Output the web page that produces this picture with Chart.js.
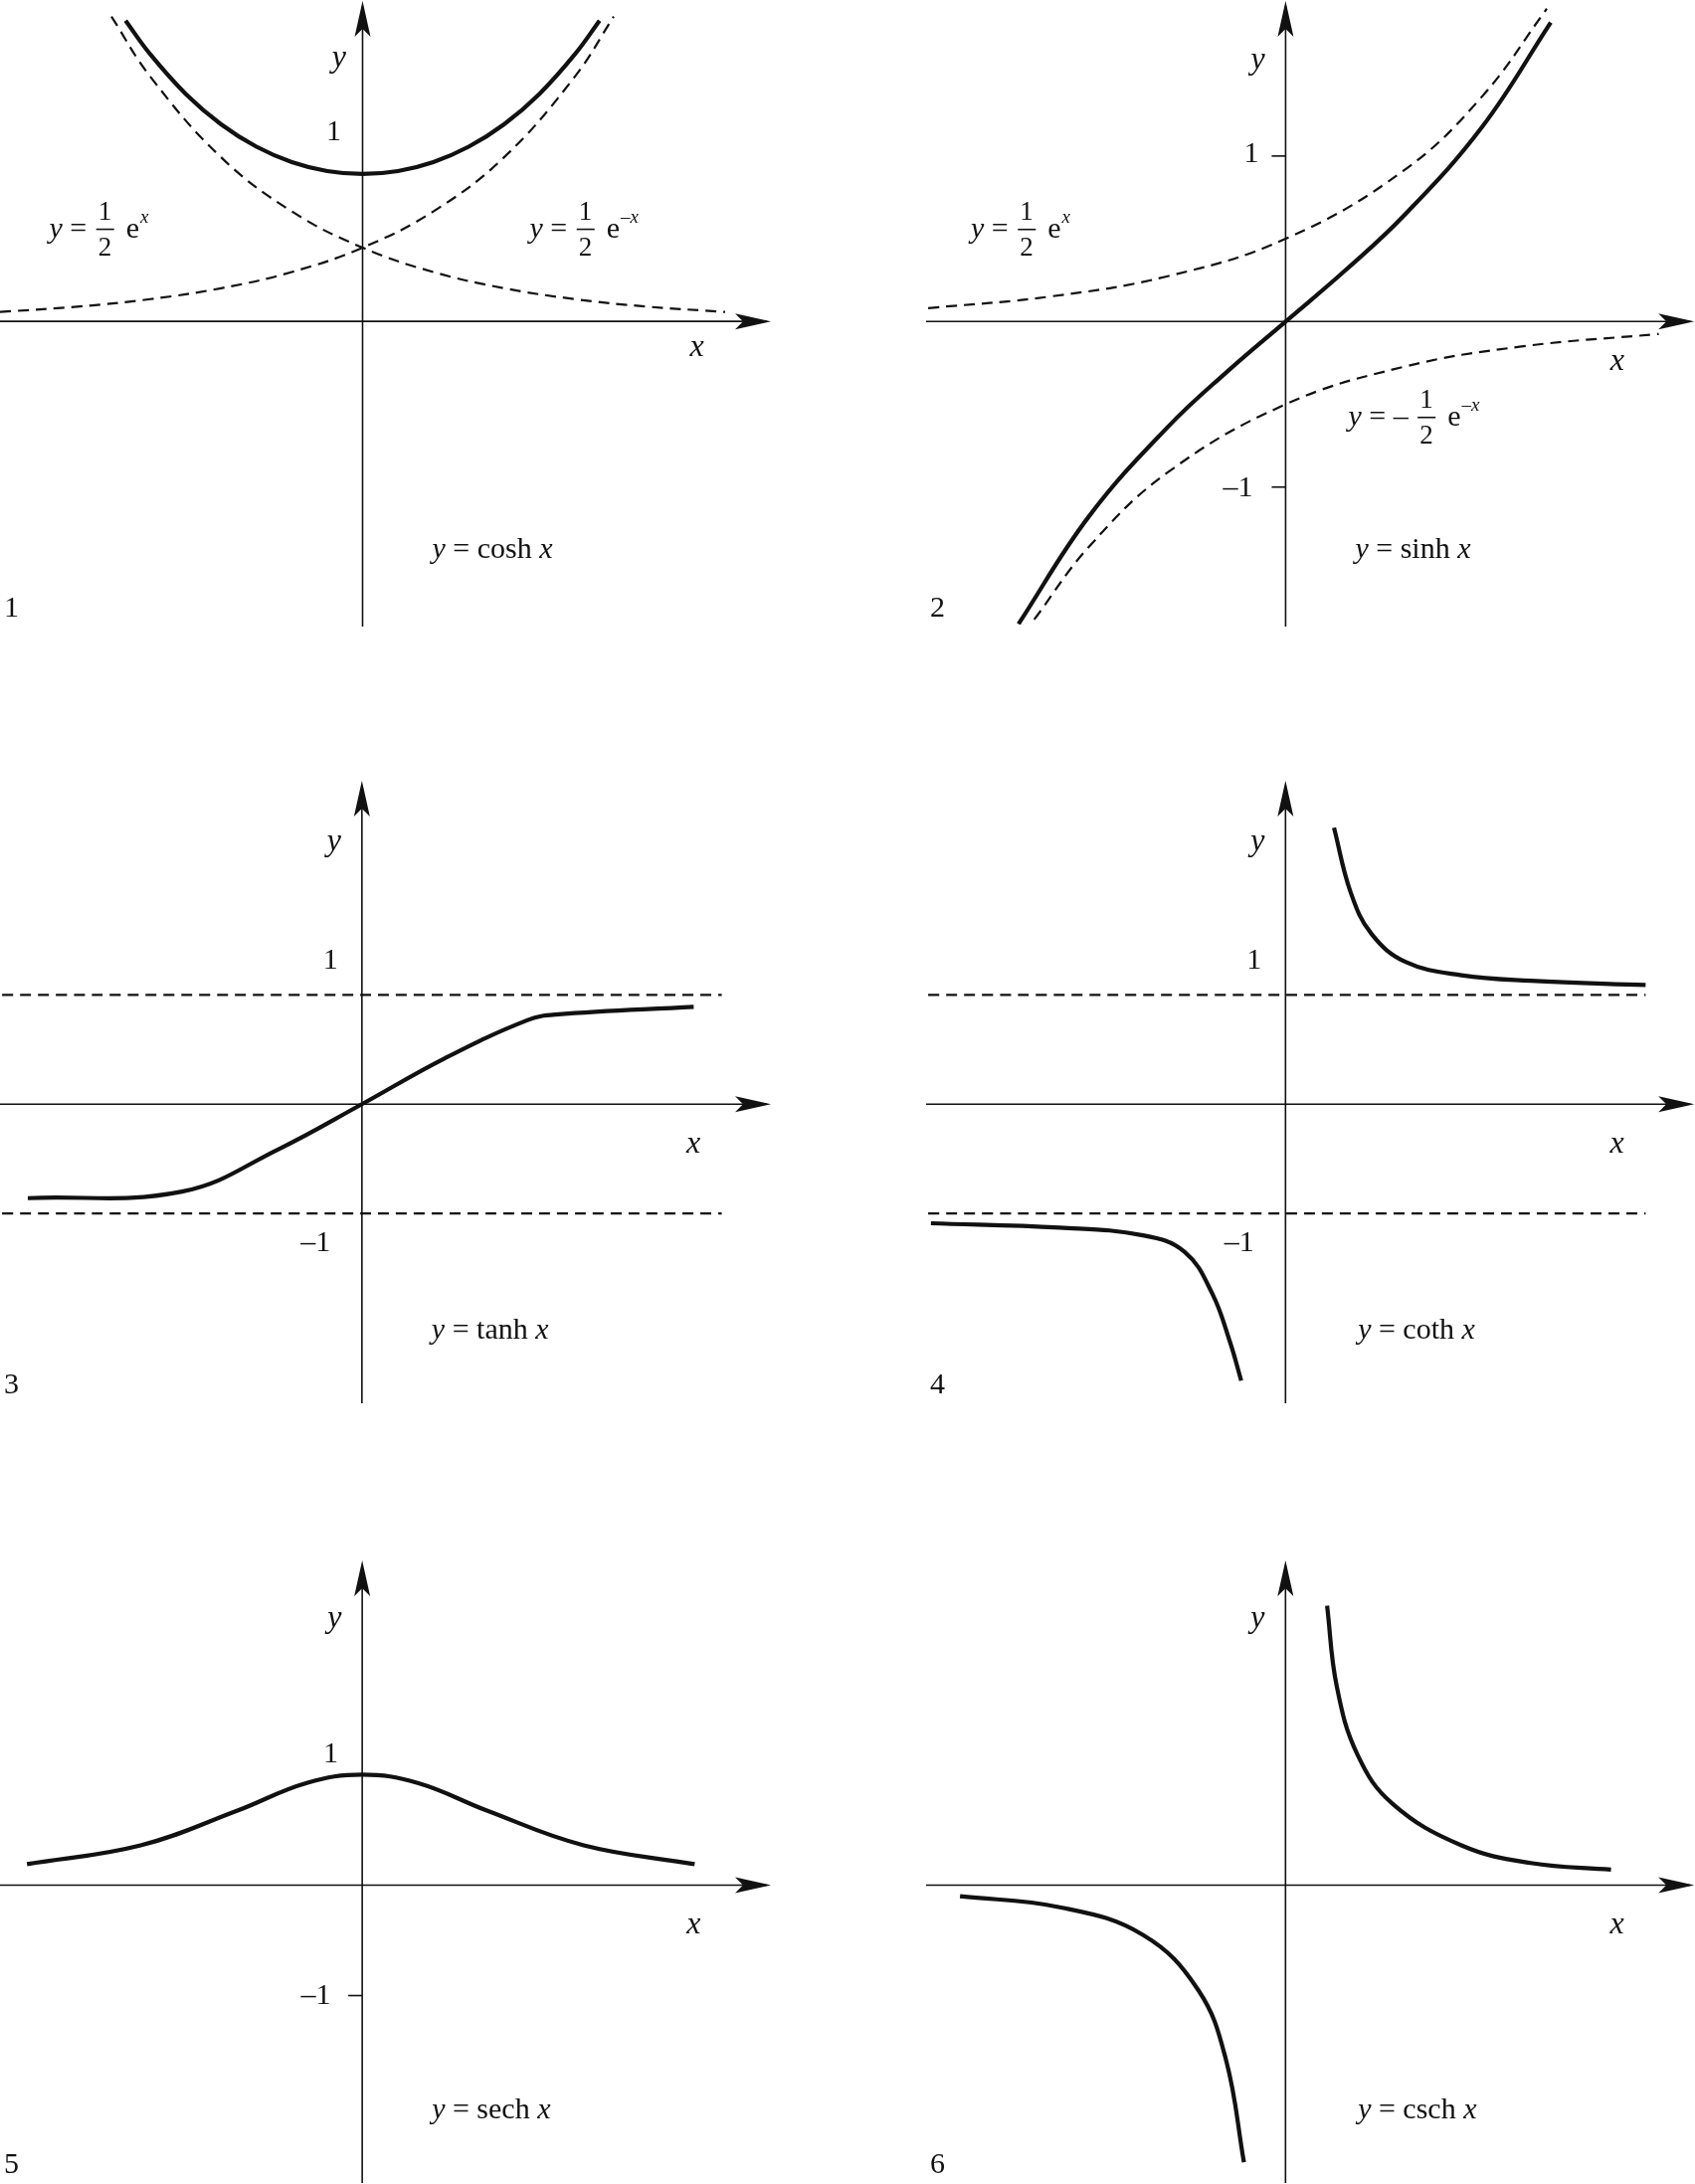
<!DOCTYPE html>
<html>
<head>
<meta charset="utf-8">
<script src="https://cdn.jsdelivr.net/npm/chart.js@4/dist/chart.umd.min.js"></script>
<style>
  body { margin: 0; background: #fff; }
  .panel { position: absolute; }
</style>
</head>
<body>
<div id="wrap"></div>
<script>
// values, {x, y} in function units
const coshPts = [[-1.34,2.04],[-1.2,1.811],[-1.0,1.543],[-0.8,1.337],[-0.6,1.185],[-0.4,1.081],[-0.2,1.02],[0,1],[0.2,1.02],[0.4,1.081],[0.6,1.185],[0.8,1.337],[1.0,1.543],[1.2,1.811],[1.34,2.04]];
const halfExpPts1 = [[-2.05,0.064],[-1.6,0.101],[-1.2,0.151],[-0.8,0.225],[-0.4,0.335],[0,0.5],[0.4,0.746],[0.8,1.113],[1.2,1.66],[1.42,2.068]];
const halfExpNegPts1 = [[-1.42,2.068],[-1.2,1.66],[-0.8,1.113],[-0.4,0.746],[0,0.5],[0.4,0.335],[0.8,0.225],[1.2,0.151],[1.6,0.101],[2.05,0.064]];
const sinhPts = [[-1.36,-1.827],[-1.0,-1.175],[-0.6,-0.637],[-0.3,-0.305],[0,0],[0.3,0.305],[0.6,0.637],[1.0,1.175],[1.35,1.807]];
const halfExpPts2 = [[-1.82,0.081],[-1.2,0.151],[-0.6,0.274],[0,0.5],[0.6,0.911],[1.0,1.359],[1.33,1.89]];
const negHalfExpNegPts2 = [[-1.28,-1.8],[-1.0,-1.359],[-0.6,-0.911],[0,-0.5],[0.6,-0.274],[1.2,-0.151],[1.9,-0.075]];
const tanhPts = [[-1.43,-0.86],[-0.77,-0.8],[-0.355,-0.41],[0,0],[0.355,0.42],[0.71,0.77],[0.83,0.82],[1.42,0.89]];
const cothRight = [[0.35,2.53],[0.47,1.94],[0.62,1.56],[0.87,1.3],[1.27,1.18],[1.77,1.13],[2.6,1.09]];
const cothLeft = [[-2.56,-1.09],[-1.63,-1.13],[-1.03,-1.2],[-0.73,-1.35],[-0.53,-1.73],[-0.4,-2.18],[-0.32,-2.53]];
const sechPts = [[-2.42,0.19],[-1.6,0.36],[-0.9,0.675],[-0.4,0.925],[0,1],[0.4,0.925],[0.9,0.675],[1.6,0.36],[2.4,0.19]];
const cschRight = [[0.3,2.53],[0.37,1.8],[0.52,1.18],[0.77,0.74],[1.27,0.36],[1.77,0.2],[2.35,0.14]];
const cschLeft = [[-2.35,-0.1],[-1.63,-0.2],[-1.03,-0.45],[-0.63,-0.95],[-0.43,-1.58],[-0.3,-2.51]];

const S = 1.4;
const SERIF = '"Liberation Serif", "DejaVu Serif", serif';

function solid(pts) {
  return { data: pts.map(p => ({x: p[0], y: p[1]})), borderColor: '#111', borderWidth: 4.2,
    pointRadius: 0, tension: 0.4, fill: false };
}
function dashed(pts) {
  return { data: pts.map(p => ({x: p[0], y: p[1]})), borderColor: '#111', borderWidth: 2.2,
    borderDash: [11, 7], pointRadius: 0, tension: 0.4, fill: false };
}

function eqText(ctx, x, y, name) {
  ctx.font = 'italic 30px ' + SERIF;
  ctx.fillText('y', x, y);
  let w = ctx.measureText('y').width;
  ctx.font = '30px ' + SERIF;
  ctx.fillText(' = ' + name + ' ', x + w, y);
  w += ctx.measureText(' = ' + name + ' ').width;
  ctx.font = 'italic 30px ' + SERIF;
  ctx.fillText('x', x + w, y);
}
function fracText(ctx, x, y, neg, sup) {
  ctx.font = 'italic 30px ' + SERIF;
  ctx.fillText('y', x, y);
  let cx = x + ctx.measureText('y').width;
  ctx.font = '30px ' + SERIF;
  const pre = neg ? ' = \u2013 ' : ' = ';
  ctx.fillText(pre, cx, y);
  cx += ctx.measureText(pre).width + 2;
  ctx.font = '27px ' + SERIF;
  ctx.fillText('1', cx + 2, y - 17);
  ctx.fillText('2', cx + 2, y + 19);
  ctx.fillRect(cx, y - 1, 18, 1.6);
  cx += 30;
  ctx.font = '30px ' + SERIF;
  ctx.fillText('e', cx, y);
  cx += ctx.measureText('e').width;
  ctx.font = 'italic 19px ' + SERIF;
  ctx.fillText(sup, cx + 1, y - 12);
}

const axesPlugin = {
  id: 'axes',
  afterDatasetsDraw(chart, args, o) {
    const ctx = chart.ctx;
    const xs = chart.scales.x, ys = chart.scales.y;
    const ox = xs.getPixelForValue(0), oy = ys.getPixelForValue(0);
    const W = chart.width, H = chart.height;
    ctx.save();
    ctx.strokeStyle = '#111'; ctx.fillStyle = '#111'; ctx.lineWidth = 1.6;
    // x axis with arrow
    ctx.beginPath(); ctx.moveTo(0, oy); ctx.lineTo(W - 6, oy); ctx.stroke();
    ctx.beginPath(); ctx.moveTo(W - 2, oy); ctx.lineTo(W - 38, oy - 8); ctx.lineTo(W - 30, oy); ctx.lineTo(W - 38, oy + 8); ctx.closePath(); ctx.fill();
    // y axis with arrow
    ctx.beginPath(); ctx.moveTo(ox, H); ctx.lineTo(ox, 6); ctx.stroke();
    ctx.beginPath(); ctx.moveTo(ox, 1); ctx.lineTo(ox - 8, 37); ctx.lineTo(ox, 29); ctx.lineTo(ox + 8, 37); ctx.closePath(); ctx.fill();
    // ticks
    (o.ticks || []).forEach(v => {
      const py = ys.getPixelForValue(v);
      ctx.beginPath(); ctx.moveTo(ox - 14, py); ctx.lineTo(ox, py); ctx.stroke();
    });
    ctx.textBaseline = 'middle'; ctx.textAlign = 'left';
    (o.labels || []).forEach(l => {
      const x = ox + l[1] * S, y = oy + l[2] * S;
      if (l[0] === 'x' || l[0] === 'y') { ctx.font = 'italic 32px ' + SERIF; ctx.fillText(l[0], x, y); }
      else { ctx.font = '30px ' + SERIF; ctx.fillText(l[0], x, y); }
    });
    if (o.eq) eqText(ctx, ox + o.eq[1] * S, oy + o.eq[2] * S, o.eq[0]);
    (o.fracs || []).forEach(f => fracText(ctx, ox + f[0] * S, oy + f[1] * S, f[2], f[3]));
    ctx.font = '30px ' + SERIF;
    ctx.fillText(o.num, 4, H - 18);
    ctx.restore();
  }
};

const panels = [
  { left: 0, top: 0, w: 555, h: 450, x: [-2.05, 2.32], y: [-2.07, 2.18],
    sets: [solid(coshPts), dashed(halfExpPts1), dashed(halfExpNegPts1)],
    opt: { num: '1', ticks: [], labels: [['y', -22, -189], ['1', -26, -136], ['x', 235, 19]],
      eq: ['cosh', 50, 164], fracs: [[-225, -66, false, 'x'], [120, -66, false, '\u2013x']] } },
  { left: 665, top: 0, w: 553, h: 450, x: [-1.82, 2.08], y: [-1.83, 1.93],
    sets: [solid(sinhPts), dashed(halfExpPts2), dashed(negHalfExpNegPts2)],
    opt: { num: '2', ticks: [1, -1], labels: [['y', -25, -188], ['1', -30, -120], ['\u20131', -45, 120], ['x', 233, 29]],
      eq: ['sinh', 50, 164], fracs: [[-226, -66, false, 'x'], [45, 69, true, '\u2013x']] } },
  { left: 0, top: 560, w: 555, h: 448, x: [-1.54, 1.75], y: [-2.72, 2.95],
    sets: [solid(tanhPts), dashed([[-1.54, 1], [1.54, 1]]), dashed([[-1.54, -1], [1.54, -1]])],
    opt: { num: '3', ticks: [], labels: [['y', -25, -188], ['1', -28, -103], ['\u20131', -44, 100], ['x', 233, 29]],
      eq: ['tanh', 50, 163] } },
  { left: 665, top: 560, w: 553, h: 448, x: [-2.58, 2.95], y: [-2.72, 2.95],
    sets: [solid(cothRight), solid(cothLeft), dashed([[-2.58, 1], [2.6, 1]]), dashed([[-2.58, -1], [2.6, -1]])],
    opt: { num: '4', ticks: [], labels: [['y', -25, -188], ['1', -28, -103], ['\u20131', -44, 100], ['x', 233, 29]],
      eq: ['coth', 52, 163] } },
  { left: 0, top: 1120, w: 555, h: 448, x: [-2.6, 2.95], y: [-2.68, 2.93],
    sets: [solid(sechPts)],
    opt: { num: '5', ticks: [-1], labels: [['y', -25, -191], ['1', -28, -94], ['\u20131', -44, 80], ['x', 233, 29]],
      eq: ['sech', 50, 162] } },
  { left: 665, top: 1120, w: 553, h: 448, x: [-2.58, 2.95], y: [-2.68, 2.93],
    sets: [solid(cschRight), solid(cschLeft)],
    opt: { num: '6', ticks: [], labels: [['y', -25, -191], ['x', 233, 29]],
      eq: ['csch', 52, 162] } }
];

const wrap = document.getElementById('wrap');
panels.forEach((p, i) => {
  const d = document.createElement('div');
  d.className = 'panel';
  d.style.left = (p.left * S) + 'px'; d.style.top = (p.top * S) + 'px';
  d.style.width = (p.w * S) + 'px'; d.style.height = (p.h * S) + 'px';
  const c = document.createElement('canvas');
  c.id = 'p' + i;
  d.appendChild(c); wrap.appendChild(d);
  new Chart(c, {
    type: 'line',
    data: { datasets: p.sets },
    options: {
      responsive: true, maintainAspectRatio: false, animation: false,
      layout: { padding: 0 },
      plugins: { legend: { display: false }, tooltip: { enabled: false }, axes: p.opt },
      scales: {
        x: { type: 'linear', min: p.x[0], max: p.x[1], display: false },
        y: { type: 'linear', min: p.y[0], max: p.y[1], display: false }
      }
    },
    plugins: [axesPlugin]
  });
});
</script>
</body>
</html>
